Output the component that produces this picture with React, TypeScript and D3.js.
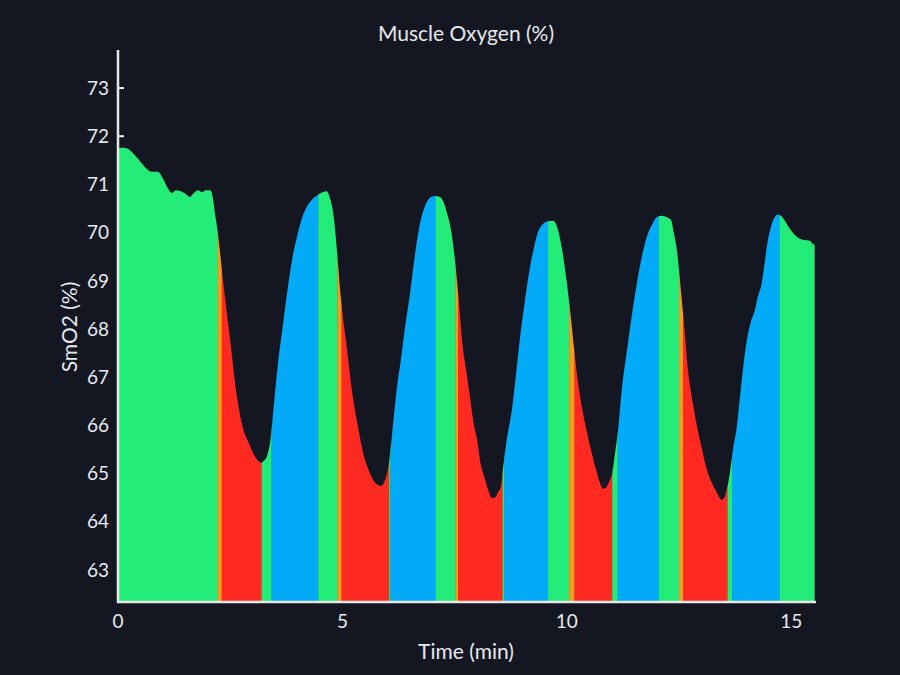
import { useEffect, useRef } from 'react';
import * as d3 from 'd3';

// SmO2 trace (minutes, %)
const timeMin = [
  0, 0.13, 0.22, 0.36, 0.49, 0.62, 0.76, 0.89, 1.0, 1.11, 1.2, 1.29, 1.4, 1.51, 1.6, 1.69, 1.78, 1.87, 1.96, 2.05,
  2.09, 2.16, 2.23, 2.34, 2.49, 2.65, 2.78, 2.9, 3.01, 3.12, 3.18, 3.25, 3.32, 3.39, 3.47, 3.56, 3.67, 3.79, 3.9, 3.99,
  4.1, 4.21, 4.32, 4.45, 4.57, 4.65, 4.72, 4.81, 4.88, 4.97, 5.1, 5.23, 5.35, 5.46, 5.57, 5.68, 5.79, 5.86, 5.92, 5.99,
  6.06, 6.12, 6.21, 6.3, 6.39, 6.5, 6.61, 6.73, 6.84, 6.95, 7.06, 7.17, 7.26, 7.33, 7.42, 7.51, 7.59, 7.68, 7.77, 7.84,
  7.93, 8.0, 8.08, 8.17, 8.26, 8.33, 8.4, 8.46, 8.53, 8.57, 8.66, 8.78, 8.86, 8.95, 9.06, 9.18, 9.27, 9.35, 9.44, 9.53,
  9.62, 9.71, 9.78, 9.84, 9.91, 9.98, 10.07, 10.16, 10.22, 10.33, 10.45, 10.56, 10.67, 10.73, 10.8, 10.87, 10.94, 11.01,
  11.07, 11.14, 11.22, 11.34, 11.45, 11.56, 11.67, 11.78, 11.89, 12.0, 12.12, 12.23, 12.32, 12.38, 12.45, 12.52, 12.56,
  12.63, 12.69, 12.78, 12.9, 13.01, 13.12, 13.23, 13.34, 13.41, 13.45, 13.52, 13.56, 13.63, 13.7, 13.79, 13.85, 13.94,
  14.01, 14.1, 14.19, 14.25, 14.34, 14.41, 14.48, 14.54, 14.63, 14.7, 14.77, 14.83, 14.9, 14.99, 15.08, 15.17, 15.26,
  15.35, 15.41, 15.48, 15.52,
];
const smo2 = [
  71.76, 71.76, 71.74, 71.62, 71.48, 71.34, 71.26, 71.26, 71.12, 70.92, 70.82, 70.88, 70.86, 70.8, 70.74, 70.82, 70.88, 70.84, 70.88, 70.88,
  70.82, 70.4, 69.95, 69.0, 67.83, 66.59, 65.95, 65.66, 65.42, 65.26, 65.22, 65.26, 65.36, 65.65, 66.4, 67.25, 68.05, 68.9, 69.55, 69.92,
  70.3, 70.54, 70.68, 70.78, 70.84, 70.86, 70.72, 70.3, 69.6, 68.6, 67.6, 66.59, 65.95, 65.43, 65.1, 64.87, 64.76, 64.74, 64.8, 64.98,
  65.4, 65.95, 66.75, 67.35, 68.0, 68.7, 69.5, 70.2, 70.55, 70.72, 70.76, 70.74, 70.62, 70.4, 70.05, 69.4, 68.6, 67.63, 67.05, 66.59,
  66.0, 65.7, 65.2, 64.9, 64.62, 64.49, 64.5, 64.6, 64.72, 65.05, 65.7, 66.35, 67.0, 67.77, 68.55, 69.29, 69.7, 69.99, 70.15, 70.22,
  70.24, 70.24, 70.12, 69.91, 69.55, 69.1, 68.4, 67.6, 67.09, 66.4, 65.84, 65.4, 65.01, 64.82, 64.68, 64.7, 64.82, 65.01,
  65.4, 65.9, 66.7, 67.56, 68.3, 68.95, 69.5, 69.91, 70.15, 70.32, 70.35, 70.32, 70.26, 70.0, 69.64, 69.0, 68.6,
  67.9, 67.21, 66.6, 65.97, 65.5, 65.07, 64.8, 64.6, 64.48, 64.45, 64.52, 64.66, 65.0, 65.49, 66.0, 66.53, 67.3,
  67.77, 68.15, 68.39, 68.65, 68.95, 69.4, 69.85, 70.1, 70.32, 70.37, 70.35, 70.28, 70.18, 70.05, 69.95, 69.88, 69.85,
  69.84, 69.83, 69.76, 69.74,
];

// zone segments (start minute, zone)
const zoneStart = [
  0, 2.22, 2.31, 3.2, 3.42, 4.46, 4.89, 4.98, 6.04, 6.07, 7.08, 7.52, 7.58, 8.57, 8.6, 9.58, 10.05, 10.17, 11.01,
  11.13, 12.05, 12.5, 12.59, 13.58, 13.68, 14.74,
];
const zoneType = [
  'green', 'orange', 'red', 'green', 'blue', 'green', 'orange', 'red', 'green', 'blue', 'green', 'orange', 'red', 'green',
  'blue', 'green', 'orange', 'red', 'green', 'blue', 'green', 'orange', 'red', 'green', 'blue', 'green',
];
const endMin = 15.52;

const yTicks = [63, 64, 65, 66, 67, 68, 69, 70, 71, 72, 73];
const xTicks = [0, 5, 10, 15];

const zoneColor: Record<string, string> = {
  green: '#24ec78',
  orange: '#f59a1c',
  red: '#fe2a22',
  blue: '#03aaf8',
};

export default function App() {
  const svgRef = useRef<SVGSVGElement>(null);

  useEffect(() => {
    if (!svgRef.current) return;
    const svg = d3.select(svgRef.current);
    svg.selectAll('*').remove();

    const W = 900, H = 675;
    const x = d3.scaleLinear().domain([0, 15.55]).range([118, 816]);
    const y = d3.scaleLinear().domain([62.33, 73.79]).range([602, 50]);
    const font = 'Lato, "Open Sans", sans-serif';
    const textCol = '#e6e8ec';

    svg.append('rect').attr('width', W).attr('height', H).attr('fill', '#141722');

    const pts = timeMin.map((t, i) => [t, smo2[i]] as [number, number]);
    const area = d3.area<[number, number]>()
      .x(d => x(d[0]))
      .y0(y(62.33))
      .y1(d => y(d[1]))
      .curve(d3.curveMonotoneX);

    const defs = svg.append('defs');
    defs.append('clipPath').attr('id', 'smo2Clip')
      .append('path').attr('d', area(pts) as string);

    // y ticks (inward, mostly hidden under the area)
    const gy = svg.append('g');
    yTicks.forEach(v => {
      gy.append('line')
        .attr('x1', 118).attr('x2', 124).attr('y1', y(v)).attr('y2', y(v))
        .attr('stroke', '#f2f2f2').attr('stroke-width', 2);
      gy.append('text')
        .attr('x', 109).attr('y', y(v)).attr('dy', '0.36em')
        .attr('text-anchor', 'end').attr('fill', textCol)
        .attr('font-family', font).attr('font-size', 19)
        .text(v);
    });

    // zone bands clipped by the area
    const zones = svg.append('g').attr('clip-path', 'url(#smo2Clip)');
    zoneStart.forEach((s, i) => {
      const e = i < zoneStart.length - 1 ? zoneStart[i + 1] : endMin;
      zones.append('rect')
        .attr('x', x(s)).attr('width', x(e) - x(s) + 0.3)
        .attr('y', 40).attr('height', 570)
        .attr('fill', zoneColor[zoneType[i]]);
    });

    // axis lines
    svg.append('line').attr('x1', 118).attr('x2', 118).attr('y1', 50).attr('y2', 603)
      .attr('stroke', '#e8e8e8').attr('stroke-width', 2.5);
    svg.append('line').attr('x1', 117).attr('x2', 816).attr('y1', 602).attr('y2', 602)
      .attr('stroke', '#e8e8e8').attr('stroke-width', 2.5);

    xTicks.forEach(v => {
      svg.append('text')
        .attr('x', x(v)).attr('y', 628)
        .attr('text-anchor', 'middle').attr('fill', textCol)
        .attr('font-family', font).attr('font-size', 19)
        .text(v);
    });

    svg.append('text').attr('x', 466).attr('y', 41).attr('text-anchor', 'middle')
      .attr('fill', textCol).attr('font-family', font).attr('font-size', 21)
      .text('Muscle Oxygen (%)');
    svg.append('text').attr('x', 466).attr('y', 659).attr('text-anchor', 'middle')
      .attr('fill', textCol).attr('font-family', font).attr('font-size', 21)
      .text('Time (min)');
    svg.append('text').attr('transform', 'translate(77,327) rotate(-90)').attr('text-anchor', 'middle')
      .attr('fill', textCol).attr('font-family', font).attr('font-size', 21)
      .text('SmO2 (%)');
  }, []);

  return (
    <svg
      ref={svgRef}
      width={900}
      height={675}
      viewBox="0 0 900 675"
      style={{ position: 'fixed', top: 0, left: 0, display: 'block' }}
    />
  );
}
